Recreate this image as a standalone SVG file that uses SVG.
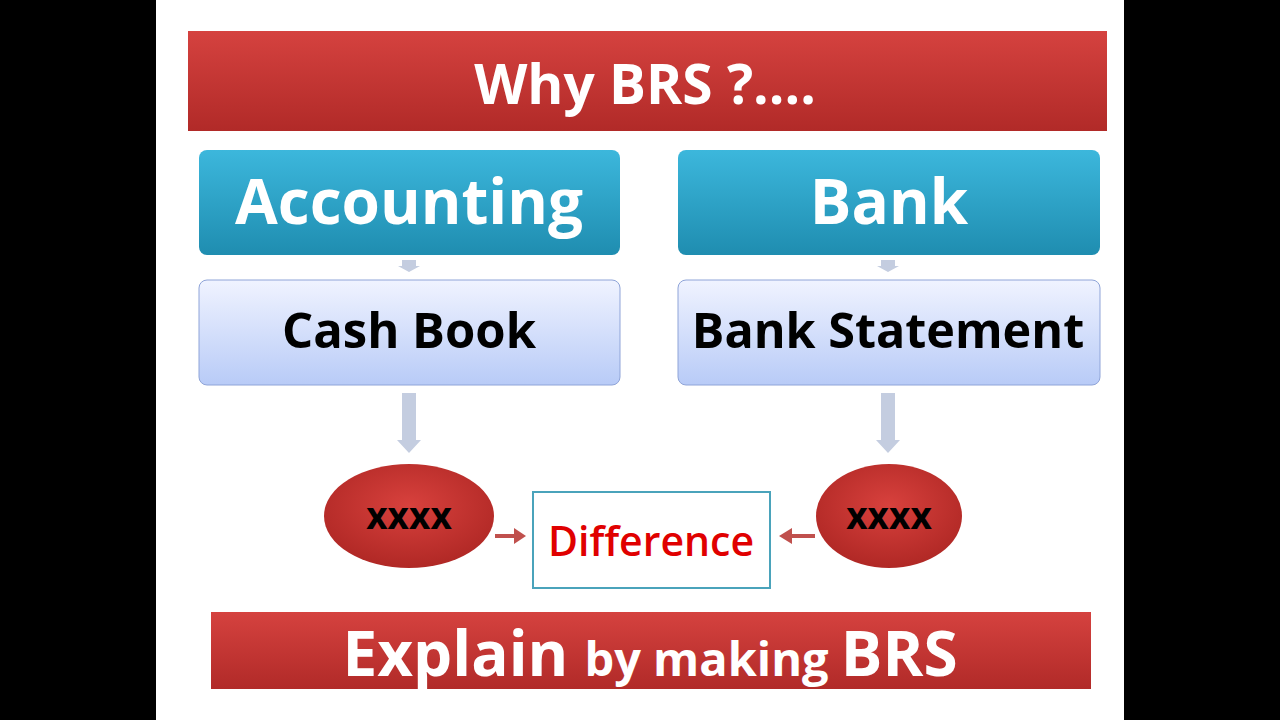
<svg xmlns="http://www.w3.org/2000/svg" width="1280" height="720" viewBox="0 0 1280 720">
<defs>
<linearGradient id="red" x1="0" y1="0" x2="0" y2="1"><stop offset="0" stop-color="#d5423f"/><stop offset="1" stop-color="#b12a28"/></linearGradient>
<linearGradient id="blue" x1="0" y1="0" x2="0" y2="1"><stop offset="0" stop-color="#3cb7dc"/><stop offset="1" stop-color="#1f8db0"/></linearGradient>
<linearGradient id="lb" x1="0" y1="0" x2="0" y2="1"><stop offset="0" stop-color="#f0f3ff"/><stop offset="1" stop-color="#b8cbf7"/></linearGradient>
<radialGradient id="ell" cx="0.5" cy="0.4" r="0.6"><stop offset="0" stop-color="#d8413d"/><stop offset="1" stop-color="#b02825"/></radialGradient>
<style>
.t{font-family:"Open Sans","Liberation Sans",sans-serif;font-weight:bold;text-anchor:middle}
.w{fill:#fff}
.bar{fill:#c4cde0}
.ra{fill:#c0504d}
</style>
</defs>
<rect width="1280" height="720" fill="#000"/>
<rect x="156" y="0" width="968" height="720" fill="#fff"/>
<g id="title"><rect x="188" y="31" width="919" height="100" fill="url(#red)"/><text class="t w" x="645" y="104" font-size="55">Why BRS ?....</text></g>
<g id="accounting"><rect x="199" y="150" width="421" height="105" rx="8" fill="url(#blue)"/><text class="t w" x="409" y="224" font-size="62">Accounting</text></g>
<g id="bank"><rect x="678" y="150" width="422" height="105" rx="8" fill="url(#blue)"/><text class="t w" x="889" y="224" font-size="62">Bank</text></g>
<g id="cashbook"><rect x="199" y="280" width="421" height="105" rx="8" fill="url(#lb)" stroke="#8fa4d8"/><text class="t" x="409" y="348" font-size="49">Cash Book</text></g>
<g id="bankstatement"><rect x="678" y="280" width="422" height="105" rx="8" fill="url(#lb)" stroke="#8fa4d8"/><text class="t" x="888" y="348" font-size="48.5">Bank Statement</text></g>
<g id="xxxx1"><ellipse cx="409" cy="516" rx="85" ry="52" fill="url(#ell)"/><text class="t" x="409" y="529" font-size="37">xxxx</text></g>
<g id="xxxx2"><ellipse cx="889" cy="516" rx="73" ry="52" fill="url(#ell)"/><text class="t" x="889" y="529" font-size="37">xxxx</text></g>
<g id="difference"><rect x="533" y="492" width="237" height="96" fill="#fff" stroke="#4aa3bb" stroke-width="2"/><text class="t" x="651" y="556" font-size="41" fill="#e00000" style="font-weight:600">Difference</text></g>
<g id="bottom"><rect x="211" y="612" width="880" height="77" fill="url(#red)"/><text class="t w" x="650" y="676"><tspan font-size="62">Explain </tspan><tspan font-size="47">by making </tspan><tspan font-size="62">BRS</tspan></text></g>
<g id="connectors">
<polygon class="bar" points="402,260 416,260 416,266 420,266 409,272 398,266 402,266"/>
<polygon class="bar" points="881,260 895,260 895,266 899,266 888,272 877,266 881,266"/>
<polygon class="bar" points="402,393 416,393 416,440 421,440 409,453 397,440 402,440"/>
<polygon class="bar" points="881,393 895,393 895,440 900,440 888,453 876,440 881,440"/>
<polygon class="ra" points="495,534 514,534 514,528 526,536 514,544 514,538 495,538"/>
<polygon class="ra" points="815,534 792,534 792,528 779,536 792,544 792,538 815,538"/>
</g>
</svg>
